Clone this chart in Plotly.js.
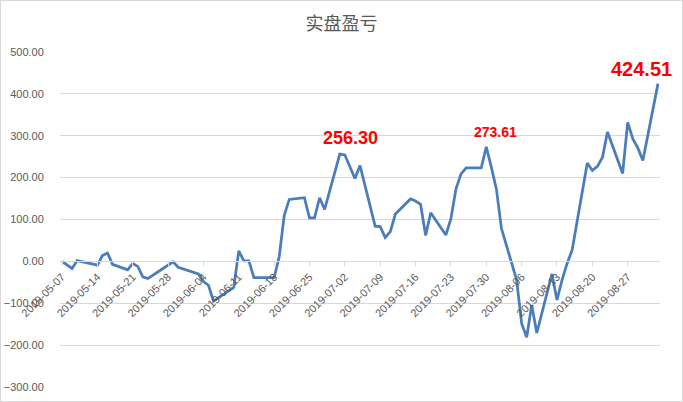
<!DOCTYPE html>
<html>
<head>
<meta charset="utf-8">
<script src="https://cdn.plot.ly/plotly-3.0.1.min.js"></script>
<style>
  html, body { margin: 0; padding: 0; background: #fff; }
  #wrap { position: relative; width: 683px; height: 402px; }
  #chart { width: 683px; height: 402px; }
  #frame { position: absolute; left: 0; top: 0; width: 683px; height: 402px; box-sizing: border-box; border: 1px solid #d9d9d9; pointer-events: none; }
</style>
</head>
<body>
<div id="wrap"><div id="chart"></div><div id="frame"></div></div>
<script>
// ---- data ----
const dates = [
  '2019-05-07','2019-05-08','2019-05-09','2019-05-10',
  '2019-05-13','2019-05-14','2019-05-15','2019-05-16','2019-05-17',
  '2019-05-20','2019-05-21','2019-05-22','2019-05-23','2019-05-24',
  '2019-05-27','2019-05-28','2019-05-29','2019-05-30','2019-05-31',
  '2019-06-03','2019-06-04','2019-06-05','2019-06-06',
  '2019-06-10','2019-06-11','2019-06-12','2019-06-13','2019-06-14',
  '2019-06-17','2019-06-18','2019-06-19','2019-06-20','2019-06-21',
  '2019-06-24','2019-06-25','2019-06-26','2019-06-27','2019-06-28',
  '2019-07-01','2019-07-02','2019-07-03','2019-07-04','2019-07-05',
  '2019-07-08','2019-07-09','2019-07-10','2019-07-11','2019-07-12',
  '2019-07-15','2019-07-16','2019-07-17','2019-07-18','2019-07-19',
  '2019-07-22','2019-07-23','2019-07-24','2019-07-25','2019-07-26',
  '2019-07-29','2019-07-30','2019-07-31','2019-08-01','2019-08-02',
  '2019-08-05','2019-08-06','2019-08-07','2019-08-08','2019-08-09',
  '2019-08-12','2019-08-13','2019-08-14','2019-08-15','2019-08-16',
  '2019-08-19','2019-08-20','2019-08-21','2019-08-22','2019-08-23',
  '2019-08-26','2019-08-27','2019-08-28','2019-08-29','2019-08-30',
  '2019-09-02'
];
const pnl = [
  0, -8, -17, 2,
  -5, -9, 14, 20, -7,
  -20, -5, -12, -37, -41,
  -17, -9, -1, -14, -18,
  -30, -48, -57, -95,
  -62, 25, 1, 1, -39,
  -39, -39, 11, 110, 148,
  152, 104, 104, 152, 124,
  256.30, 254, 226, 198, 229,
  84, 83, 57, 71, 113,
  149, 144, 136, 62, 116,
  63, 102, 173, 209, 223,
  223, 273.61, 225, 173, 79,
  -44, -148, -181, -104, -171,
  -30, -92, -45, -5, 27,
  235, 217, 227, 248, 309,
  210, 332, 293, 271, 241,
  424.51
];
const tickDates = [
  '2019-05-07','2019-05-14','2019-05-21','2019-05-28','2019-06-04','2019-06-11',
  '2019-06-18','2019-06-25','2019-07-02','2019-07-09','2019-07-16','2019-07-23',
  '2019-07-30','2019-08-06','2019-08-13','2019-08-20','2019-08-27'
];
const yTicks = [-300, -200, -100, 0, 100, 200, 300, 400, 500];
const labelDates = ['2019-07-01', '2019-07-30', '2019-09-02'];
const chartTitle = '实盘盈亏';

// ---- styles for labels ----
const labelStyle = [
  {size: 18, xshift: 11, yshift: 16},
  {size: 14, xshift: 9, yshift: 15},
  {size: 20, xshift: -17, yshift: 15}
];

const annotations = labelDates.map((d, i) => {
  const idx = dates.indexOf(d);
  return {
    x: d, y: pnl[idx], xref: 'x', yref: 'y',
    text: pnl[idx].toFixed(2), showarrow: false,
    xshift: labelStyle[i].xshift, yshift: labelStyle[i].yshift,
    font: {family: 'Liberation Sans, Arial, sans-serif', size: labelStyle[i].size, color: '#ff0000', weight: 'bold'}
  };
});

const trace = {
  x: dates, y: pnl, type: 'scatter', mode: 'lines',
  line: {color: '#4a7dba', width: 2.75, shape: 'linear'},
  hoverinfo: 'skip'
};

const layout = {
  width: 683, height: 402,
  margin: {l: 60, r: 23, t: 52, b: 15},
  paper_bgcolor: '#ffffff', plot_bgcolor: '#ffffff',
  showlegend: false,
  font: {family: 'Liberation Sans, Arial, sans-serif', color: '#595959', size: 11},
  title: {
    text: chartTitle, x: 0.5, xref: 'container', y: 1 - 23.5/402, yref: 'container',
    xanchor: 'center', yanchor: 'middle',
    font: {family: 'Noto Sans CJK SC, sans-serif', size: 18, color: '#595959'}
  },
  xaxis: {
    type: 'date',
    range: ['2019-05-06 14:30', '2019-09-02 09:30'],
    anchor: 'free', position: 0.375,
    tickmode: 'array', tickvals: tickDates, ticktext: tickDates,
    tickangle: -45,
    showgrid: false, zeroline: false,
    showline: true, linecolor: '#d9d9d9', linewidth: 1,
    ticks: 'outside', ticklen: 4, tickcolor: '#d9d9d9',
    tickfont: {size: 11, color: '#595959'}
  },
  yaxis: {
    range: [-300, 500],
    tickmode: 'array', tickvals: yTicks,
    tickformat: '.2f',
    showgrid: true, gridcolor: '#d9d9d9', gridwidth: 1,
    zeroline: false, showline: false,
    ticks: 'outside', ticklen: 13, tickcolor: 'rgba(0,0,0,0)',
    tickfont: {size: 11, color: '#595959'}
  },
  annotations: annotations
};

Plotly.newPlot('chart', [trace], layout, {displayModeBar: false, staticPlot: true});
</script>
</body>
</html>
